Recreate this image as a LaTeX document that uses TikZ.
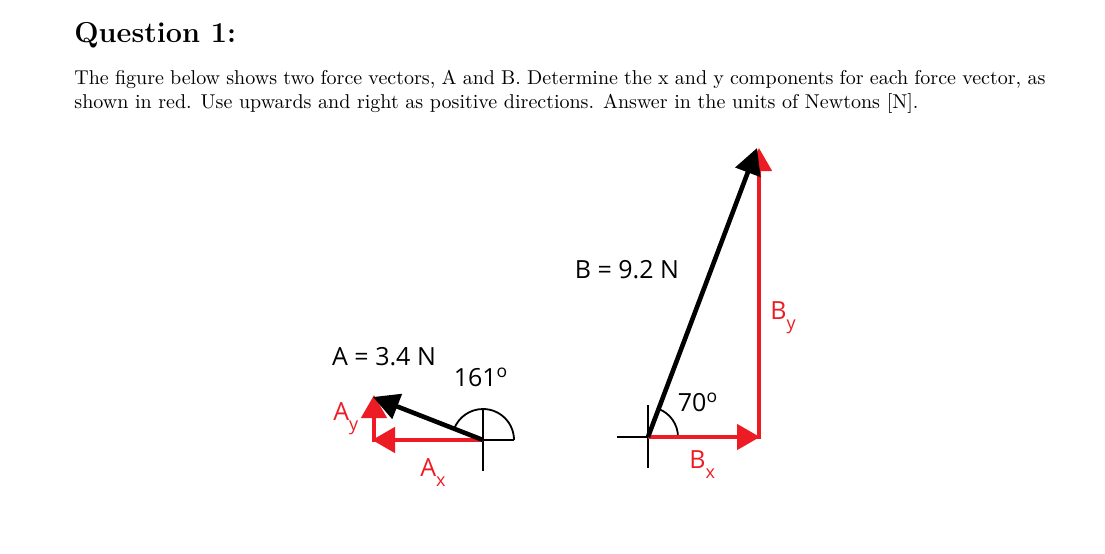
\documentclass[tikz,border=0pt]{standalone}
\usepackage{fontspec}
\usetikzlibrary{arrows.meta}
\newfontfamily\lab{Open Sans}
\definecolor{fred}{HTML}{ED1C24}
\begin{document}
\begin{tikzpicture}[x=0.5pt,y=-0.5pt,
  axis/.style={line width=1pt,black},
  vec/.style={line width=2.3pt,black,-{Triangle[length=13pt,width=13pt]}},
  comp/.style={line width=2.3pt,fred,-{Triangle[length=11.5pt,width=12.5pt]}},
  angarc/.style={line width=0.9pt,black},
  lbl/.style={font=\lab\fontsize{12.5}{15}\selectfont,inner sep=0pt},
  rlbl/.style={lbl,text=fred}]
\useasboundingbox (0,0) rectangle (1105,553);
% text
\node[anchor=base west,inner sep=0pt,font=\Large\bfseries] (title) at (74,42) {Question 1:};
\node[anchor=base west,inner sep=0pt] (line1) at (74,84) {\makebox[485.5pt][s]{The figure below shows two force vectors, A and B. Determine the x and y components for each force vector, as}};
\node[anchor=base west,inner sep=0pt] (line2) at (74,108) {shown in red. Use upwards and right as positive directions. Answer in the units of Newtons [N].};
% ---- vector A ----
\coordinate (OA) at (483,440);
\coordinate (Aup) at (483,409);
\coordinate (Adown) at (483,471);
\coordinate (Aright) at (514,440);
\coordinate (Atip) at (373,397);
\coordinate (Axtip) at (372,440);
\coordinate (Aybase) at (374,442);
\coordinate (Aytip) at (374,395);
\draw[axis] (Aup) -- (Adown);
\draw[axis] (OA) -- (Aright);
\draw[angarc] (Aright) arc[start angle=0,end angle=-160,radius=31];
\draw[comp] (Aybase) -- (Aytip);
\draw[comp] (OA) -- (Axtip);
\draw[vec] (OA) -- (Atip);
\node[lbl] (Alab) at (384,357) {A = 3.4 N};
\node[lbl] (Aang) at (481,377) {161\textsuperscript{o}};
\node[rlbl,anchor=base west] (Aylab) at (333,420) {A\raisebox{-5pt}{\fontsize{9}{9}\selectfont y}};
\node[rlbl,anchor=base west] (Axlab) at (420,476) {A\raisebox{-5pt}{\fontsize{9}{9}\selectfont x}};
% ---- vector B ----
\coordinate (OB) at (648,437);
\coordinate (Bup) at (648,405);
\coordinate (Bdown) at (648,468);
\coordinate (Bleft) at (617,437);
\coordinate (Bxtip) at (760,437);
\coordinate (Bybase) at (759,439);
\coordinate (Bytip) at (759,148);
\coordinate (Btip) at (757,148);
\coordinate (Barc) at (678,437);
\draw[axis] (Bup) -- (Bdown);
\draw[axis] (Bleft) -- (OB);
\draw[angarc] (Barc) arc[start angle=0,end angle=-70,radius=30];
\draw[comp] (OB) -- (Bxtip);
\draw[comp] (Bybase) -- (Bytip);
\draw[vec] (OB) -- (Btip);
\node[lbl] (Blab) at (627,270) {B = 9.2 N};
\node[lbl] (Bang) at (698,402) {70\textsuperscript{o}};
\node[rlbl,anchor=base west] (Bylab) at (770,319) {B\raisebox{-5pt}{\fontsize{9}{9}\selectfont y}};
\node[rlbl,anchor=base west] (Bxlab) at (689,468) {B\raisebox{-5pt}{\fontsize{9}{9}\selectfont x}};
\end{tikzpicture}
\end{document}
